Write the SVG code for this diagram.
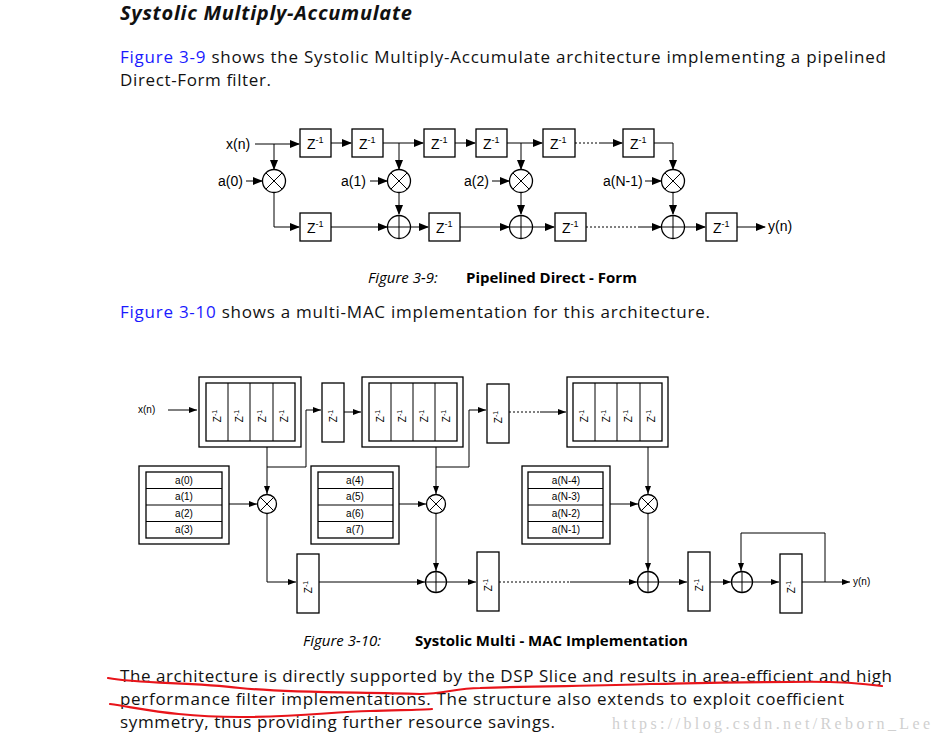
<svg xmlns="http://www.w3.org/2000/svg" width="941" height="745" viewBox="0 0 941 745">
<defs>
<marker id="ar" markerWidth="10" markerHeight="8" refX="9" refY="4" orient="auto" markerUnits="userSpaceOnUse"><path d="M0,0 L10,4 L0,8 z" fill="#000"/></marker>
<marker id="as" markerWidth="8" markerHeight="6" refX="8" refY="3" orient="auto" markerUnits="userSpaceOnUse"><path d="M0,0 L8,3 L0,6 z" fill="#000"/></marker>
</defs>
<style>
.p{font-family:"Open Sans","Noto Sans",sans-serif;font-size:17px;fill:#111}
.b{fill:#1a1aff}
.d{font-family:"Liberation Sans",Arial,sans-serif;font-size:14px;fill:#000}
.s{font-family:"Liberation Sans",Arial,sans-serif;font-size:10px;fill:#000}
.bx{fill:#fff;stroke:#000;stroke-width:1.3}
.ln{fill:none;stroke:#000;stroke-width:1}
.la{fill:none;stroke:#000;stroke-width:1;marker-end:url(#ar)}
.lb{fill:none;stroke:#000;stroke-width:1;marker-end:url(#as)}
.dt{fill:none;stroke:#000;stroke-width:1;stroke-dasharray:2,2}
.c{fill:#fff;stroke:#000;stroke-width:1.3}
.cap{font-family:"Open Sans","Noto Sans",sans-serif;font-size:15px;fill:#000}
.red{fill:none;stroke:#e8141a;stroke-width:2.2;stroke-linecap:round}
</style>
<rect width="941" height="745" fill="#fff"/>
<text x="120" y="20" class="p" style="font-size:20px;font-weight:bold;font-style:italic" textLength="292">Systolic Multiply-Accumulate</text>
<text x="120" y="63" class="p" textLength="766"><tspan class="b">Figure 3-9</tspan> shows the Systolic Multiply-Accumulate architecture implementing a pipelined</text>
<text x="120" y="86" class="p" textLength="151">Direct-Form filter.</text>

<g id="fig39-connectors">
<path class="la" d="M255,144 H299"/>
<path class="la" d="M331,143 H351"/>
<path class="la" d="M383,143 H423"/>
<path class="la" d="M455,143 H475"/>
<path class="la" d="M507,143 H542"/>
<path class="dt" d="M575,143 H600"/>
<path class="la" d="M600,143 H622"/>
<path class="la" d="M274,144 V169"/>
<path class="la" d="M399,143 V169"/>
<path class="la" d="M521,143 V169"/>
<path class="la" d="M654,143 H673 V169"/>
<path class="la" d="M246,181 H262"/>
<path class="la" d="M370,181 H387"/>
<path class="la" d="M492,181 H509"/>
<path class="la" d="M645,181 H661"/>
<path class="la" d="M399,193 V214"/>
<path class="la" d="M521,193 V214"/>
<path class="la" d="M673,193 V214"/>
<path class="la" d="M274,193 V227 H299"/>
<path class="la" d="M331,227 H387"/>
<path class="la" d="M411,227 H428"/>
<path class="la" d="M460,227 H509"/>
<path class="la" d="M533,227 H554"/>
<path class="dt" d="M586,227 H640"/>
<path class="la" d="M640,227 H661"/>
<path class="la" d="M685,227 H705"/>
<path class="la" d="M737,227 H765"/>
</g>
<g id="fig39-nodes">
<text x="226" y="149" class="d">x(n)</text>
<text x="218" y="186" class="d">a(0)</text>
<text x="341" y="186" class="d">a(1)</text>
<text x="464" y="186" class="d">a(2)</text>
<text x="603" y="186" class="d">a(N-1)</text>
<text x="768" y="231" class="d">y(n)</text>
<g id="z1"><rect class="bx" x="300" y="129" width="31" height="28"/><text x="307" y="149" class="d">Z<tspan dy="-6" font-size="9">-1</tspan></text></g>
<g id="z2"><rect class="bx" x="352" y="129" width="31" height="28"/><text x="359" y="149" class="d">Z<tspan dy="-6" font-size="9">-1</tspan></text></g>
<g id="z3"><rect class="bx" x="424" y="129" width="31" height="28"/><text x="431" y="149" class="d">Z<tspan dy="-6" font-size="9">-1</tspan></text></g>
<g id="z4"><rect class="bx" x="476" y="129" width="31" height="28"/><text x="483" y="149" class="d">Z<tspan dy="-6" font-size="9">-1</tspan></text></g>
<g id="z5"><rect class="bx" x="543" y="129" width="32" height="28"/><text x="550" y="149" class="d">Z<tspan dy="-6" font-size="9">-1</tspan></text></g>
<g id="z6"><rect class="bx" x="623" y="129" width="31" height="28"/><text x="630" y="149" class="d">Z<tspan dy="-6" font-size="9">-1</tspan></text></g>
<g id="z7"><rect class="bx" x="300" y="213" width="31" height="28"/><text x="307" y="233" class="d">Z<tspan dy="-6" font-size="9">-1</tspan></text></g>
<g id="z8"><rect class="bx" x="429" y="213" width="31" height="28"/><text x="436" y="233" class="d">Z<tspan dy="-6" font-size="9">-1</tspan></text></g>
<g id="z9"><rect class="bx" x="555" y="213" width="31" height="28"/><text x="562" y="233" class="d">Z<tspan dy="-6" font-size="9">-1</tspan></text></g>
<g id="z10"><rect class="bx" x="706" y="213" width="31" height="28"/><text x="713" y="233" class="d">Z<tspan dy="-6" font-size="9">-1</tspan></text></g>
<g id="m0"><circle class="c" cx="274" cy="181" r="11.5"/><path class="ln" d="M266,173 L282,189 M282,173 L266,189" stroke-width="1.3"/></g>
<g id="m1"><circle class="c" cx="399" cy="181" r="11.5"/><path class="ln" d="M391,173 L407,189 M407,173 L391,189" stroke-width="1.3"/></g>
<g id="m2"><circle class="c" cx="521" cy="181" r="11.5"/><path class="ln" d="M513,173 L529,189 M529,173 L513,189" stroke-width="1.3"/></g>
<g id="m3"><circle class="c" cx="673" cy="181" r="11.5"/><path class="ln" d="M665,173 L681,189 M681,173 L665,189" stroke-width="1.3"/></g>
<g id="s1"><circle class="c" cx="399" cy="227" r="11.5"/><path class="ln" d="M387.5,227 H410.5 M399,215.5 V238.5"/></g>
<g id="s2"><circle class="c" cx="521" cy="227" r="11.5"/><path class="ln" d="M509.5,227 H532.5 M521,215.5 V238.5"/></g>
<g id="s3"><circle class="c" cx="673" cy="227" r="11.5"/><path class="ln" d="M661.5,227 H684.5 M673,215.5 V238.5"/></g>
</g>
<text x="368" y="283" class="cap"><tspan font-style="italic">Figure 3-9:</tspan><tspan x="466" font-weight="bold">Pipelined Direct - Form</tspan></text>

<text x="120" y="318" class="p" textLength="590"><tspan class="b">Figure 3-10</tspan> shows a multi-MAC implementation for this architecture.</text>

<g id="fig310-connectors">
<path class="lb" d="M168,410 H197"/>
<path class="ln" d="M267,447 V467"/>
<path class="lb" d="M267,467 V494"/>
<path class="lb" d="M267,467 H306 V410 H321"/>
<path class="lb" d="M344,412 H361"/>
<path class="lb" d="M436,447 V494"/>
<path class="lb" d="M436,467 H469 V410 H486"/>
<path class="dt" d="M509,412 H540"/>
<path class="lb" d="M540,412 H566"/>
<path class="lb" d="M648,447 V494"/>
<path class="lb" d="M229,504 H257"/>
<path class="lb" d="M399,504 H426"/>
<path class="lb" d="M610,504 H638"/>
<path class="lb" d="M267,514 V582 H296"/>
<path class="lb" d="M319,582 H425"/>
<path class="lb" d="M436,514 V571"/>
<path class="lb" d="M648,514 V571"/>
<path class="lb" d="M447,582 H476"/>
<path class="dt" d="M499,582 H570"/>
<path class="lb" d="M570,582 H637"/>
<path class="lb" d="M659,582 H687"/>
<path class="lb" d="M710,582 H731"/>
<path class="lb" d="M753,582 H779"/>
<path class="lb" d="M802,582 H850"/>
<path class="lb" d="M825,582 V533 H741 V571"/>
</g>
<g id="fig310-nodes">
<text x="138" y="413" class="s">x(n)</text>
<text x="853" y="585" class="s">y(n)</text>
<g id="reg1"><rect class="bx" x="199" y="377" width="102" height="70"/><rect class="bx" x="206" y="383" width="89" height="58"/><path class="ln" d="M228,383 V441 M250,383 V441 M273,383 V441" stroke-width="1.3"/>
<text class="s" transform="translate(221,416) rotate(-90)" text-anchor="middle">Z<tspan dy="-4" font-size="7">-1</tspan></text>
<text class="s" transform="translate(243,416) rotate(-90)" text-anchor="middle">Z<tspan dy="-4" font-size="7">-1</tspan></text>
<text class="s" transform="translate(266,416) rotate(-90)" text-anchor="middle">Z<tspan dy="-4" font-size="7">-1</tspan></text>
<text class="s" transform="translate(288,416) rotate(-90)" text-anchor="middle">Z<tspan dy="-4" font-size="7">-1</tspan></text></g>
<g id="reg2"><rect class="bx" x="362" y="377" width="101" height="70"/><rect class="bx" x="369" y="383" width="88" height="58"/><path class="ln" d="M391,383 V441 M413,383 V441 M435,383 V441" stroke-width="1.3"/>
<text class="s" transform="translate(384,416) rotate(-90)" text-anchor="middle">Z<tspan dy="-4" font-size="7">-1</tspan></text>
<text class="s" transform="translate(406,416) rotate(-90)" text-anchor="middle">Z<tspan dy="-4" font-size="7">-1</tspan></text>
<text class="s" transform="translate(428,416) rotate(-90)" text-anchor="middle">Z<tspan dy="-4" font-size="7">-1</tspan></text>
<text class="s" transform="translate(450,416) rotate(-90)" text-anchor="middle">Z<tspan dy="-4" font-size="7">-1</tspan></text></g>
<g id="reg3"><rect class="bx" x="567" y="377" width="101" height="70"/><rect class="bx" x="573" y="383" width="89" height="58"/><path class="ln" d="M595,383 V441 M617,383 V441 M640,383 V441" stroke-width="1.3"/>
<text class="s" transform="translate(588,416) rotate(-90)" text-anchor="middle">Z<tspan dy="-4" font-size="7">-1</tspan></text>
<text class="s" transform="translate(610,416) rotate(-90)" text-anchor="middle">Z<tspan dy="-4" font-size="7">-1</tspan></text>
<text class="s" transform="translate(632,416) rotate(-90)" text-anchor="middle">Z<tspan dy="-4" font-size="7">-1</tspan></text>
<text class="s" transform="translate(655,416) rotate(-90)" text-anchor="middle">Z<tspan dy="-4" font-size="7">-1</tspan></text></g>
<g id="d1"><rect class="bx" x="322" y="383" width="22" height="59"/><text class="s" transform="translate(337,416) rotate(-90)" text-anchor="middle">Z<tspan dy="-4" font-size="7">-1</tspan></text></g>
<g id="d2"><rect class="bx" x="487" y="384" width="22" height="59"/><text class="s" transform="translate(502,417) rotate(-90)" text-anchor="middle">Z<tspan dy="-4" font-size="7">-1</tspan></text></g>
<g id="d3"><rect class="bx" x="297" y="554" width="22" height="59"/><text class="s" transform="translate(312,587) rotate(-90)" text-anchor="middle">Z<tspan dy="-4" font-size="7">-1</tspan></text></g>
<g id="d4"><rect class="bx" x="477" y="552" width="22" height="59"/><text class="s" transform="translate(492,585) rotate(-90)" text-anchor="middle">Z<tspan dy="-4" font-size="7">-1</tspan></text></g>
<g id="d5"><rect class="bx" x="688" y="552" width="22" height="59"/><text class="s" transform="translate(703,585) rotate(-90)" text-anchor="middle">Z<tspan dy="-4" font-size="7">-1</tspan></text></g>
<g id="d6"><rect class="bx" x="780" y="554" width="22" height="59"/><text class="s" transform="translate(795,587) rotate(-90)" text-anchor="middle">Z<tspan dy="-4" font-size="7">-1</tspan></text></g>
<g id="coef1"><rect class="bx" x="139" y="466" width="90" height="78"/><rect class="bx" x="146" y="472" width="76" height="66"/><path class="ln" d="M146,488.5 H222 M146,505 H222 M146,521.5 H222" stroke-width="1.3"/>
<text class="s" x="184" y="484" text-anchor="middle">a(0)</text><text class="s" x="184" y="500" text-anchor="middle">a(1)</text><text class="s" x="184" y="517" text-anchor="middle">a(2)</text><text class="s" x="184" y="533" text-anchor="middle">a(3)</text></g>
<g id="coef2"><rect class="bx" x="311" y="466" width="88" height="78"/><rect class="bx" x="318" y="472" width="75" height="66"/><path class="ln" d="M318,488.5 H393 M318,505 H393 M318,521.5 H393" stroke-width="1.3"/>
<text class="s" x="355" y="484" text-anchor="middle">a(4)</text><text class="s" x="355" y="500" text-anchor="middle">a(5)</text><text class="s" x="355" y="517" text-anchor="middle">a(6)</text><text class="s" x="355" y="533" text-anchor="middle">a(7)</text></g>
<g id="coef3"><rect class="bx" x="522" y="466" width="88" height="78"/><rect class="bx" x="528" y="472" width="75" height="66"/><path class="ln" d="M528,488.5 H603 M528,505 H603 M528,521.5 H603" stroke-width="1.3"/>
<text class="s" x="566" y="484" text-anchor="middle">a(N-4)</text><text class="s" x="566" y="500" text-anchor="middle">a(N-3)</text><text class="s" x="566" y="517" text-anchor="middle">a(N-2)</text><text class="s" x="566" y="533" text-anchor="middle">a(N-1)</text></g>
<g id="bm1"><circle class="c" cx="267" cy="504" r="9.5"/><path class="ln" d="M260.3,497.3 L273.7,510.7 M273.7,497.3 L260.3,510.7"/></g>
<g id="bm2"><circle class="c" cx="436" cy="504" r="9.5"/><path class="ln" d="M429.3,497.3 L442.7,510.7 M442.7,497.3 L429.3,510.7"/></g>
<g id="bm3"><circle class="c" cx="648" cy="504" r="9.5"/><path class="ln" d="M641.3,497.3 L654.7,510.7 M654.7,497.3 L641.3,510.7"/></g>
<g id="ba1"><circle class="c" cx="436" cy="582" r="10.5"/><path class="ln" d="M425.5,582 H446.5 M436,571.5 V592.5"/></g>
<g id="ba2"><circle class="c" cx="648" cy="582" r="10.5"/><path class="ln" d="M637.5,582 H658.5 M648,571.5 V592.5"/></g>
<g id="ba3"><circle class="c" cx="742" cy="582" r="10.5"/><path class="ln" d="M731.5,582 H752.5 M742,571.5 V592.5"/></g>
</g>
<text x="303" y="646" class="cap"><tspan font-style="italic">Figure 3-10:</tspan><tspan x="415" font-weight="bold">Systolic Multi - MAC Implementation</tspan></text>

<text x="120" y="682" class="p" textLength="772">The architecture is directly supported by the DSP Slice and results in area-efficient and high</text>
<text x="120" y="705" class="p" textLength="724">performance filter implementations. The structure also extends to exploit coefficient</text>
<text x="120" y="728" class="p" textLength="435">symmetry, thus providing further resource savings.</text>
<text x="612" y="729" style="font-family:'Liberation Serif',serif;font-size:16px;fill:#d0d0d0" textLength="318">https://blog.csdn.net/Reborn_Lee</text>
<path class="red" d="M108,678 C140,684 190,682 240,688 C290,693 350,692 420,694 C445,694 455,688 480,688 C540,686 600,686 650,684 C700,683 740,682 790,682 C830,681 860,683 882,686"/>
<path class="red" d="M110,704 C150,710 180,717 240,717 C300,717 330,712 370,711 C400,710 420,710 432,709"/>
</svg>
